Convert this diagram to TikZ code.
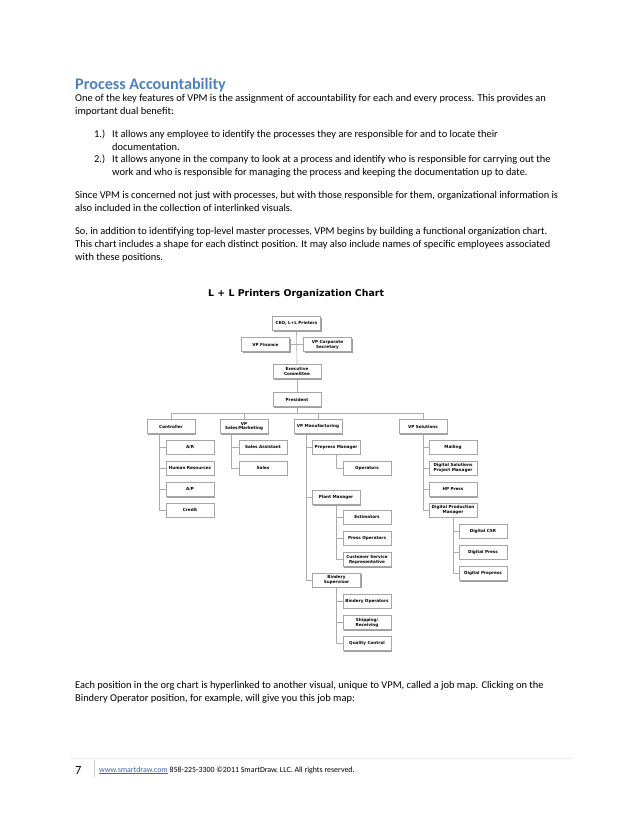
\documentclass[tikz,border=0pt]{standalone}
\usepackage{fontspec}
\setmainfont{Carlito}
\newfontfamily\grafpismo{DejaVu Sans}
\usetikzlibrary{positioning,shadows}
\definecolor{nadpis}{RGB}{79,129,189}
\definecolor{odkaz}{RGB}{60,100,185}
\tikzset{
  pozice/.style={rectangle,draw=gray!70,fill=white,line width=0.5pt,minimum width=46pt,minimum height=13.6pt,inner sep=0.5pt,align=center,
    font=\grafpismo\bfseries\fontsize{4}{4.6}\selectfont,
    drop shadow={shadow xshift=1.1pt,shadow yshift=-1.1pt,fill=gray!75,opacity=1}},
  spoj/.style={draw=gray!65,line width=0.6pt},
  odst/.style={anchor=base west,inner sep=0,align=left,font=\fontsize{10}{12.1}\selectfont},
}

\begin{document}
\begin{tikzpicture}[x=0.9592pt,y=-0.9592pt]
  \useasboundingbox[fill=white] (0,0) rectangle (638,826);
  % text of the page (multi-line nodes sit on their last baseline)
  \node[anchor=base west,inner sep=0,font=\fontsize{15.5}{18}\selectfont\bfseries,text=nadpis] (titul) at (75,89) {Process Accountability};
  \node[odst] (p1) at (75,114) {One of the key features of VPM is the assignment of accountability for each and every process. This provides an\\important dual benefit:};
  \node[odst] (c1) at (94,137) {1.)};
  \node[odst] (b1) at (112,150) {It allows any employee to identify the processes they are responsible for and to locate their\\documentation.};
  \node[odst] (c2) at (94,162) {2.)};
  \node[odst] (b2) at (112,175) {It allows anyone in the company to look at a process and identify who is responsible for carrying out the\\work and who is responsible for managing the process and keeping the documentation up to date.};
  \node[odst] (p2) at (75,211) {Since VPM is concerned not just with processes, but with those responsible for them, organizational information is\\also included in the collection of interlinked visuals.};
  \node[odst] (p3) at (75,260) {So, in addition to identifying top-level master processes, VPM begins by building a functional organization chart.\\This chart includes a shape for each distinct position. It may also include names of specific employees associated\\with these positions.};
  \node[odst] (p4) at (75,701) {Each position in the org chart is hyperlinked to another visual, unique to VPM, called a job map. Clicking on the\\Bindery Operator position, for example, will give you this job map:};

  % org chart
  \node[anchor=base west,inner sep=0,font=\grafpismo\bfseries\fontsize{9}{11}\selectfont] (nazev) at (208,296) {L + L Printers Organization Chart};
  \node[pozice] (ceo) at (296.5,323.5) {CEO, L+L Printers};
  \node[pozice] (fin) at (265.5,344.5) {VP Finance};
  \node[pozice] (sec) at (327.5,344.5) {VP Corporate\\Secretary};
  \node[pozice] (exe) at (297,371.5) {Executive\\Committee};
  \node[pozice] (pres) at (297,399.5) {President};
  \coordinate (sbernice) at (297,413);

  \node[pozice] (ctrl) at (171,426.5) {Controller};
  \node[pozice] (sales) at (244,426.5) {VP\\Sales/Marketing};
  \node[pozice] (mfg) at (318,426.5) {VP Manufacturing};
  \node[pozice] (sol) at (423,426.5) {VP Solutions};

  \node[pozice] (ar) at (190,447) {A/R};
  \node[pozice] (hr) at (190,468) {Human Resources};
  \node[pozice] (ap) at (190,489.5) {A/P};
  \node[pozice] (cr) at (190,510) {Credit};

  \node[pozice] (sasst) at (263,447) {Sales Assistant};
  \node[pozice] (sls) at (263,468) {Sales};

  \node[pozice] (prep) at (336,447) {Prepress Manager};
  \node[pozice] (ops) at (367,468) {Operators};
  \node[pozice] (plant) at (336,497.5) {Plant Manager};
  \node[pozice] (est) at (367,517) {Estimators};
  \node[pozice] (press) at (367,538) {Press Operators};
  \node[pozice] (csr) at (367,559.5) {Customer Service\\Representative};
  \node[pozice] (bind) at (336.5,580) {Bindery\\Supervisor};
  \node[pozice] (bop) at (367,601) {Bindery Operators};
  \node[pozice] (ship) at (367,622.5) {Shipping/\\Receiving};
  \node[pozice] (qc) at (367,643.5) {Quality Control};

  \node[pozice] (mail) at (453,447) {Mailing};
  \node[pozice] (dspm) at (453,468) {Digital Solutions\\Project Manager};
  \node[pozice] (hp) at (453,489.5) {HP Press};
  \node[pozice] (dpm) at (453,510) {Digital Production\\Manager};
  \node[pozice] (dcsr) at (483,531) {Digital CSR};
  \node[pozice] (dpress) at (483,552) {Digital Press};
  \node[pozice] (dprep) at (483,573.5) {Digital Prepress};

  \draw[spoj] (ceo.south) -- (exe.north);
  \draw[spoj] (fin.east) -- (sec.west);
  \draw[spoj] (exe.south) -- (pres.north);
  \draw[spoj] (pres.south) -- (sbernice);
  \draw[spoj] (ctrl.north) -- (ctrl.north |- sbernice) -- (sol.north |- sbernice) -- (sol.north);
  \draw[spoj] (sales.north) -- (sales.north |- sbernice);
  \draw[spoj] (mfg.north) -- (mfg.north |- sbernice);
  \foreach \c in {ar,hr,ap,cr} \draw[spoj] ([xshift=12.5pt]ctrl.south west) |- (\c.west);
  \foreach \c in {sasst,sls} \draw[spoj] ([xshift=11.5pt]sales.south west) |- (\c.west);
  \foreach \c in {prep,plant,bind} \draw[spoj] ([xshift=12.5pt]mfg.south west) |- (\c.west);
  \draw[spoj] (prep.south) |- (ops.west);
  \foreach \c in {est,press,csr} \draw[spoj] (plant.south) |- (\c.west);
  \foreach \c in {bop,ship,qc} \draw[spoj] (bind.south) |- (\c.west);
  \foreach \c in {mail,dspm,hp,dpm} \draw[spoj] (sol.south) |- (\c.west);
  \foreach \c in {dcsr,dpress,dprep} \draw[spoj] (dpm.south) |- (\c.west);

  % footer
  \draw[gray!15,line width=0.8pt] (70,758) -- (572,758);
  \draw[gray!40,line width=0.4pt] (94,761) -- (94,777);
  \node[anchor=base west,inner sep=0,font=\fontsize{12}{14}\selectfont] (strana) at (75,774) {7};
  \node[anchor=base west,inner sep=0,font=\fontsize{7.6}{9}\selectfont] (pata) at (99,772) {\textcolor{odkaz}{\underline{www.smartdraw.com}} 858-225-3300 \textcopyright2011 SmartDraw, LLC. All rights reserved.};
\end{tikzpicture}
\end{document}
